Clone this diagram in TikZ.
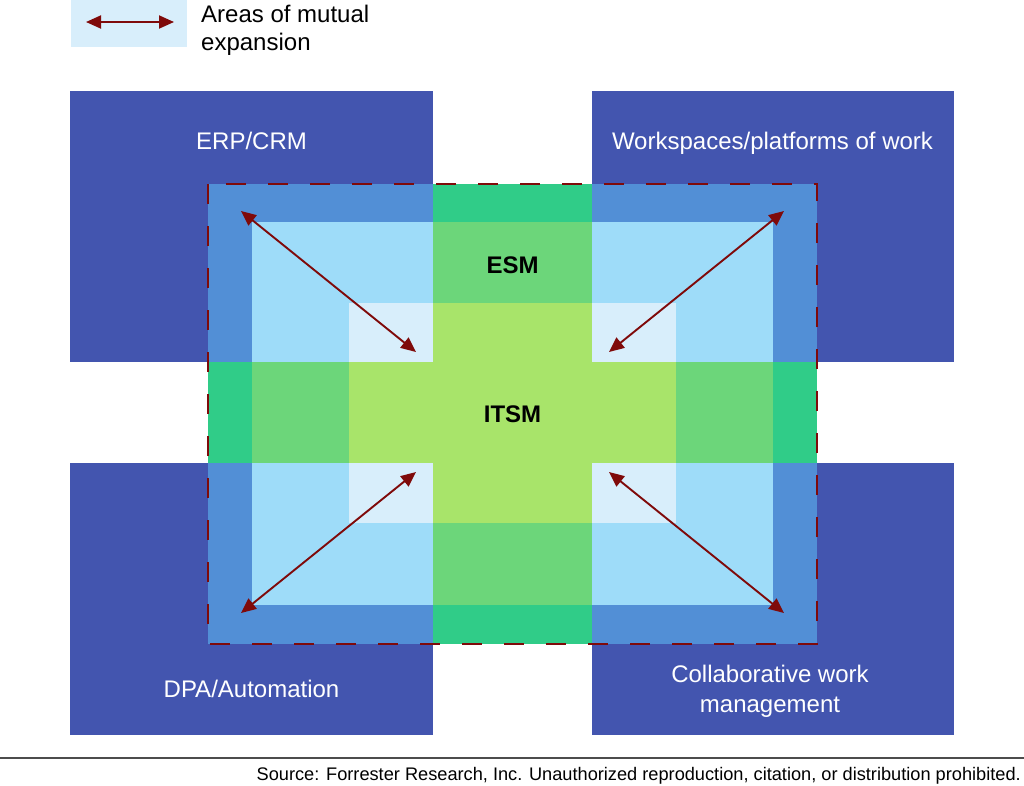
\documentclass[tikz,border=0pt]{standalone}
\usepackage{fontspec}
\setmainfont{Liberation Sans}
\usetikzlibrary{arrows.meta}

\definecolor{boxblue}{HTML}{4355AF}
\definecolor{bandblue}{HTML}{528FD6}
\definecolor{skyblue}{HTML}{9EDCF9}
\definecolor{paleblue}{HTML}{D8EEFB}
\definecolor{bandteal}{HTML}{30CC88}
\definecolor{bandgreen}{HTML}{6CD67A}
\definecolor{bandlime}{HTML}{A8E46A}
\definecolor{arrowred}{HTML}{7F0A0A}

\begin{document}
\begin{tikzpicture}[
x=1pt, y=-1pt,
boxlabel/.style={font=\fontsize{24}{30}\selectfont, text=white, anchor=base, align=center, inner sep=0pt},
corelabel/.style={font=\bfseries\fontsize{24}{28}\selectfont, anchor=base, inner sep=0pt},
legendlabel/.style={font=\fontsize{24}{28}\selectfont, anchor=base west, align=left, inner sep=0pt},
arrow/.style={{Triangle[length=15pt,width=13pt]}-{Triangle[length=15pt,width=13pt]}, line width=1.9pt, draw=arrowred},
border/.style={draw=arrowred, line width=1.5pt, dash pattern=on 20pt off 22pt} ]

\useasboundingbox (0,0) rectangle (1024,785);

% legend
\fill[paleblue] (71,0) rectangle (187,47);
\coordinate (legL) at (86,22);
\coordinate (legR) at (174,22);
\draw[arrow] (legL) -- (legR);
\node[legendlabel] (legend) at (201,50) {Areas of mutual\\expansion};

% outer boxes
\fill[boxblue] (70,91) rectangle (433,362);
\fill[boxblue] (592,91) rectangle (954,362);
\fill[boxblue] (70,463) rectangle (433,735);
\fill[boxblue] (592,463) rectangle (954,735);

% outer band
\fill[bandblue] (208,184) rectangle (817,644);
\fill[bandteal] (433,184) rectangle (592,644);
\fill[bandteal] (208,362) rectangle (817,463);

% middle band
\fill[skyblue] (252,222) rectangle (773,605);
\fill[bandgreen] (433,222) rectangle (592,605);
\fill[bandgreen] (252,362) rectangle (773,463);

% inner band
\fill[paleblue] (349,303) rectangle (676,523);
\fill[bandlime] (433,303) rectangle (592,523);
\fill[bandlime] (349,362) rectangle (676,463);

\draw[border] (208,184) rectangle (817,644);

\node[boxlabel] (erp) at (251.5,149) {ERP/CRM};
\node[boxlabel] (work) at (772.5,149) {Workspaces/platforms of work};
\node[boxlabel] (dpa) at (251.5,697) {DPA/Automation};
\node[boxlabel] (cwm) at (770,712) {Collaborative work\\management};

\node[corelabel] (esm) at (512.5,273) {ESM};
\node[corelabel] (itsm) at (512.5,422) {ITSM};

% expansion arrows
\coordinate (tlA) at (241,211);
\coordinate (tlB) at (416,352);
\coordinate (trA) at (784,211);
\coordinate (trB) at (609,352);
\coordinate (blA) at (241,613);
\coordinate (blB) at (416,472);
\coordinate (brA) at (784,613);
\coordinate (brB) at (609,472);

\draw[arrow] (tlA) -- (tlB);
\draw[arrow] (trA) -- (trB);
\draw[arrow] (blA) -- (blB);
\draw[arrow] (brA) -- (brB);

% footer
\draw[black!70, line width=1.4pt] (0,758) -- (1024,758);
\node[font=\fontsize{18.2}{20}\selectfont, anchor=base east, inner sep=0pt] (source) at (1021,780)
  {Source: Forrester Research, Inc. Unauthorized reproduction, citation, or distribution prohibited.};

\end{tikzpicture}
\end{document}
